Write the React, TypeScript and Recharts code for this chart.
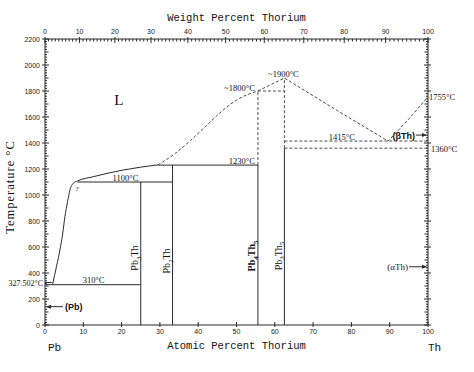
import { ComposedChart, Line, XAxis, YAxis, ReferenceDot } from 'recharts'

const W = 474
const H = 372
const INK = '#2a2a2a'
const DASH = '#4a4a4a'

// atomic masses, used to place the weight-percent scale on the atomic-percent axis
const PB = 207.2
const TH = 232.04
const atFromWt = (w: number) => ((w / TH) / (w / TH + (100 - w) / PB)) * 100
const wtFromAt = (a: number) => ((a * TH) / (a * TH + (100 - a) * PB)) * 100

const atomicTicks = [0, 10, 20, 30, 40, 50, 60, 70, 80, 90, 100]
const weightMinor = Array.from({ length: 101 }, (_, i) => i)
const tempMinor = Array.from({ length: 111 }, (_, i) => i * 20)

// phase boundaries: x = at.% Th, t = °C
const pbMelt = [{ x: 0, t: 327.5 }, { x: 1.8, t: 327.5 }]
const liquidusLow = [
  { x: 2.0, t: 315 }, { x: 3.0, t: 450 }, { x: 3.9, t: 577 }, { x: 4.6, t: 700 },
  { x: 5.2, t: 833 }, { x: 5.9, t: 950 }, { x: 6.5, t: 1038 }, { x: 7.4, t: 1090 },
  { x: 8.5, t: 1108 }, { x: 12.5, t: 1140 }, { x: 20.4, t: 1192 }, { x: 29.5, t: 1232 },
]
const liquidusMid = [
  { x: 29.5, t: 1232 }, { x: 34, t: 1320 }, { x: 38, t: 1420 }, { x: 42, t: 1530 },
  { x: 46, t: 1640 }, { x: 50, t: 1730 }, { x: 55.6, t: 1800 },
]
const liquidusHigh = [
  { x: 55.6, t: 1800 }, { x: 62.5, t: 1900 }, { x: 76, t: 1655 }, { x: 89.6, t: 1415 },
  { x: 95, t: 1585 }, { x: 100, t: 1755 },
]
const eutectic310 = [{ x: 0, t: 310 }, { x: 25, t: 310 }]
const peritectic1100 = [{ x: 8.5, t: 1100 }, { x: 33.3, t: 1100 }]
const peritectic1230 = [{ x: 29.5, t: 1230 }, { x: 55.6, t: 1230 }]
const peritectic1800 = [{ x: 55.6, t: 1800 }, { x: 62.5, t: 1800 }]
const eutectic1415 = [{ x: 62.5, t: 1415 }, { x: 100, t: 1415 }]
const eutectoid1360 = [{ x: 62.5, t: 1360 }, { x: 100, t: 1360 }]
const pb3th = [{ x: 25, t: 0 }, { x: 25, t: 1100 }]
const pb2th = [{ x: 33.3, t: 0 }, { x: 33.3, t: 1230 }]
const pb4th5 = [{ x: 55.6, t: 0 }, { x: 55.6, t: 1230 }]
const pb4th5Upper = [{ x: 55.6, t: 1230 }, { x: 55.6, t: 1800 }]
const pb3th5 = [{ x: 62.5, t: 0 }, { x: 62.5, t: 1360 }]
const pb3th5Upper = [{ x: 62.5, t: 1360 }, { x: 62.5, t: 1900 }]

const solidLines = [pbMelt, eutectic310, peritectic1100, peritectic1230, pb3th, pb2th, pb4th5, pb3th5]
const dashedLines = [liquidusHigh, peritectic1800, eutectic1415, eutectoid1360, pb4th5Upper, pb3th5Upper]

const serif = 'Liberation Serif'
const mono = 'Liberation Mono'
const sans = 'Liberation Sans'

function BottomTick(p: any) {
  const { x, y } = p
  return (
    <g>
      <line x1={x} x2={x} y1={y - 3} y2={y + 2} stroke={INK} />
      <text x={x} y={y + 9} textAnchor="middle" fontSize={7} fontFamily={sans} fill="#222">
        {p.payload.value}
      </text>
    </g>
  )
}

function TopTick(p: any) {
  const { x, y } = p
  const w = Math.round(wtFromAt(p.payload.value))
  const major = w % 10 === 0
  return (
    <g>
      <line x1={x} x2={x} y1={y - (major ? 2 : 0)} y2={y + (major ? 4 : 2.5)} stroke={INK} />
      {major && (
        <text x={x} y={y - 5} textAnchor="middle" fontSize={7} fontFamily={sans} fill="#222">
          {w}
        </text>
      )}
    </g>
  )
}

function LeftTick(p: any) {
  const { x, y } = p
  const v = p.payload.value
  const major = v % 200 === 0
  const len = major ? 4 : v % 100 === 0 ? 3.5 : 2
  return (
    <g>
      <line x1={x - (major ? 3 : 0)} x2={x + len} y1={y} y2={y} stroke={INK} />
      {major && (
        <text x={x - 5} y={y + 2.5} textAnchor="end" fontSize={7} fontFamily={sans} fill="#222">
          {v}
        </text>
      )}
    </g>
  )
}

function RightTick(p: any) {
  const { x, y } = p
  const v = p.payload.value
  const major = v % 200 === 0
  const len = major ? 4 : v % 100 === 0 ? 3.5 : 2
  return <line x1={x - len} x2={x + (major ? 3 : 0)} y1={y} y2={y} stroke={INK} />
}

const note = (key: string, x: number, t: number, draw: (cx: number, cy: number) => any) => (
  <ReferenceDot
    key={key}
    xAxisId="at"
    yAxisId="left"
    x={x}
    y={t}
    r={0}
    ifOverflow="visible"
    shape={(p: any) => draw(p.cx, p.cy)}
  />
)

const serifText = (text: string, dx: number, dy: number, anchor = 'middle', size = 8.5) =>
  (cx: number, cy: number) => (
    <text x={cx + dx} y={cy + dy} textAnchor={anchor} fontSize={size} fontFamily={serif} fill="#111">
      {text}
    </text>
  )

const compound = (a: string, s1: string, b: string, s2: string, bold = false) =>
  (cx: number, cy: number) => (
    <text
      transform={`translate(${cx - 2.5},${cy}) rotate(-90)`}
      textAnchor="middle"
      fontSize={10}
      fontFamily={serif}
      fontWeight={bold ? 'bold' : 'normal'}
      fill="#111"
    >
      {a}
      <tspan fontSize={7} dy={2.5}>{s1}</tspan>
      <tspan dy={-2.5}>{b}</tspan>
      {s2 && <tspan fontSize={7} dy={2.5}>{s2}</tspan>}
    </text>
  )

export default function App() {
  return (
    <div style={{ position: 'absolute', left: 0, top: 0, width: W, height: H, background: '#fff' }}>
      <ComposedChart width={W} height={H} margin={{ top: 0, right: 0, bottom: 0, left: 0 }}>
        <XAxis
          xAxisId="at"
          dataKey="x"
          type="number"
          domain={[0, 100]}
          ticks={atomicTicks}
          interval={0}
          height={47}
          tickSize={0}
          tickMargin={0}
          tickLine={false}
          tick={BottomTick}
          axisLine={{ stroke: INK }}
        />
        <XAxis
          xAxisId="wt"
          orientation="top"
          dataKey="x"
          type="number"
          domain={[0, 100]}
          ticks={weightMinor.map(atFromWt)}
          interval={0}
          height={39}
          tickSize={0}
          tickMargin={0}
          tickLine={false}
          tick={TopTick}
          axisLine={{ stroke: INK }}
        />
        <YAxis
          yAxisId="left"
          type="number"
          domain={[0, 2200]}
          ticks={tempMinor}
          interval={0}
          width={45}
          tickSize={0}
          tickMargin={0}
          tickLine={false}
          tick={LeftTick}
          axisLine={{ stroke: INK }}
        />
        <YAxis
          yAxisId="right"
          orientation="right"
          type="number"
          domain={[0, 2200]}
          ticks={tempMinor}
          interval={0}
          width={46}
          tickSize={0}
          tickMargin={0}
          tickLine={false}
          tick={RightTick}
          axisLine={{ stroke: INK }}
        />

        {/* the top and right scales only show up when a series is tied to them */}
        <Line xAxisId="wt" yAxisId="right" data={liquidusHigh} dataKey="t" type="linear"
          stroke="none" dot={false} isAnimationActive={false} />

        {solidLines.map((d, i) => (
          <Line key={'s' + i} xAxisId="at" yAxisId="left" data={d} dataKey="t" type="linear"
            stroke={INK} strokeWidth={1} dot={false} isAnimationActive={false} />
        ))}
        <Line xAxisId="at" yAxisId="left" data={liquidusLow} dataKey="t" type="monotone"
          stroke={INK} strokeWidth={1} dot={false} isAnimationActive={false} />
        <Line xAxisId="at" yAxisId="left" data={liquidusMid} dataKey="t" type="monotone"
          stroke={DASH} strokeWidth={1} strokeDasharray="3 2" dot={false} isAnimationActive={false} />
        {dashedLines.map((d, i) => (
          <Line key={'d' + i} xAxisId="at" yAxisId="left" data={d} dataKey="t" type="linear"
            stroke={DASH} strokeWidth={1} strokeDasharray="3 2" dot={false} isAnimationActive={false} />
        ))}

        {note('top', 50, 2200, (cx, cy) => (
          <text x={cx} y={cy - 18} textAnchor="middle" fontSize={10.5} fontFamily={mono} fill="#111">
            Weight Percent Thorium
          </text>
        ))}
        {note('bottom', 50, 0, (cx, cy) => (
          <text x={cx} y={cy + 24} textAnchor="middle" fontSize={10.5} fontFamily={mono} fill="#111">
            Atomic Percent Thorium
          </text>
        ))}
        {note('pb', 0, 0, (cx, cy) => (
          <text x={cx + 3} y={cy + 26} fontSize={11} fontFamily={mono} fill="#111">Pb</text>
        ))}
        {note('th', 100, 0, (cx, cy) => (
          <text x={cx} y={cy + 26} fontSize={11} fontFamily={mono} fill="#111">Th</text>
        ))}
        {note('temp', 0, 1100, (cx, cy) => (
          <text transform={`translate(${cx - 31},${cy + 5}) rotate(-90)`} textAnchor="middle"
            fontSize={12.5} letterSpacing={1} fontFamily={serif} fill="#111">
            Temperature °C
          </text>
        ))}

        {note('L', 19.3, 1731, (cx, cy) => (
          <text x={cx} y={cy + 5} textAnchor="middle" fontSize={15} fontFamily={serif} fill="#111">L</text>
        ))}
        {note('q', 8.4, 1054, serifText('?', 0, 3, 'middle', 7))}
        {note('1100', 21, 1100, serifText('1100°C', 0, -1.5))}
        {note('1230', 51.4, 1230, serifText('1230°C', 0, -1.5))}
        {note('310', 12.7, 310, serifText('310°C', 0, -1.5))}
        {note('1415', 77.5, 1415, serifText('1415°C', 0, -1.5))}
        {note('1800', 55.6, 1800, serifText('~1800°C', -3, 0, 'end'))}
        {note('1900', 62.5, 1900, serifText('~1900°C', -1, -1))}
        {note('1755', 100, 1755, serifText('1755°C', 1, 3, 'start'))}
        {note('1360', 100, 1360, serifText('1360°C', 3, 4, 'start'))}
        {note('327', 0, 327.5, serifText('327.502°C', -2, 3.5, 'end', 8))}

        {note('c1', 25, 515, compound('Pb', '3', 'Th', ''))}
        {note('c2', 33.3, 492, compound('Pb', '2', 'Th', ''))}
        {note('c3', 55.6, 531, compound('Pb', '4', 'Th', '5', true))}
        {note('c4', 62.5, 531, compound('Pb', '3', 'Th', '5'))}

        {note('pbss', 0, 141, (cx, cy) => (
          <g>
            <line x1={cx + 2} x2={cx + 18} y1={cy} y2={cy} stroke={INK} />
            <path d={`M${cx + 1},${cy} L${cx + 6},${cy - 2} L${cx + 6},${cy + 2} Z`} fill={INK} />
            <text x={cx + 20} y={cy + 3.5} fontSize={9} fontWeight="bold" fontFamily={sans} fill="#111">(Pb)</text>
          </g>
        ))}
        {note('beta', 100, 1461, (cx, cy) => (
          <g>
            <line x1={cx - 12} x2={cx - 2} y1={cy} y2={cy} stroke={INK} />
            <path d={`M${cx - 1},${cy} L${cx - 6},${cy - 2} L${cx - 6},${cy + 2} Z`} fill={INK} />
            <text x={cx - 13} y={cy + 3.5} textAnchor="end" fontSize={9} fontWeight="bold" fontFamily={sans} fill="#111">(βTh)</text>
          </g>
        ))}
        {note('alpha', 100, 448, (cx, cy) => (
          <g>
            <line x1={cx - 19} x2={cx - 2} y1={cy} y2={cy} stroke={INK} />
            <path d={`M${cx - 1},${cy} L${cx - 6},${cy - 2} L${cx - 6},${cy + 2} Z`} fill={INK} />
            <text x={cx - 20} y={cy + 3.5} textAnchor="end" fontSize={9} fontFamily={serif} fill="#111">(αTh)</text>
          </g>
        ))}
      </ComposedChart>
    </div>
  )
}
